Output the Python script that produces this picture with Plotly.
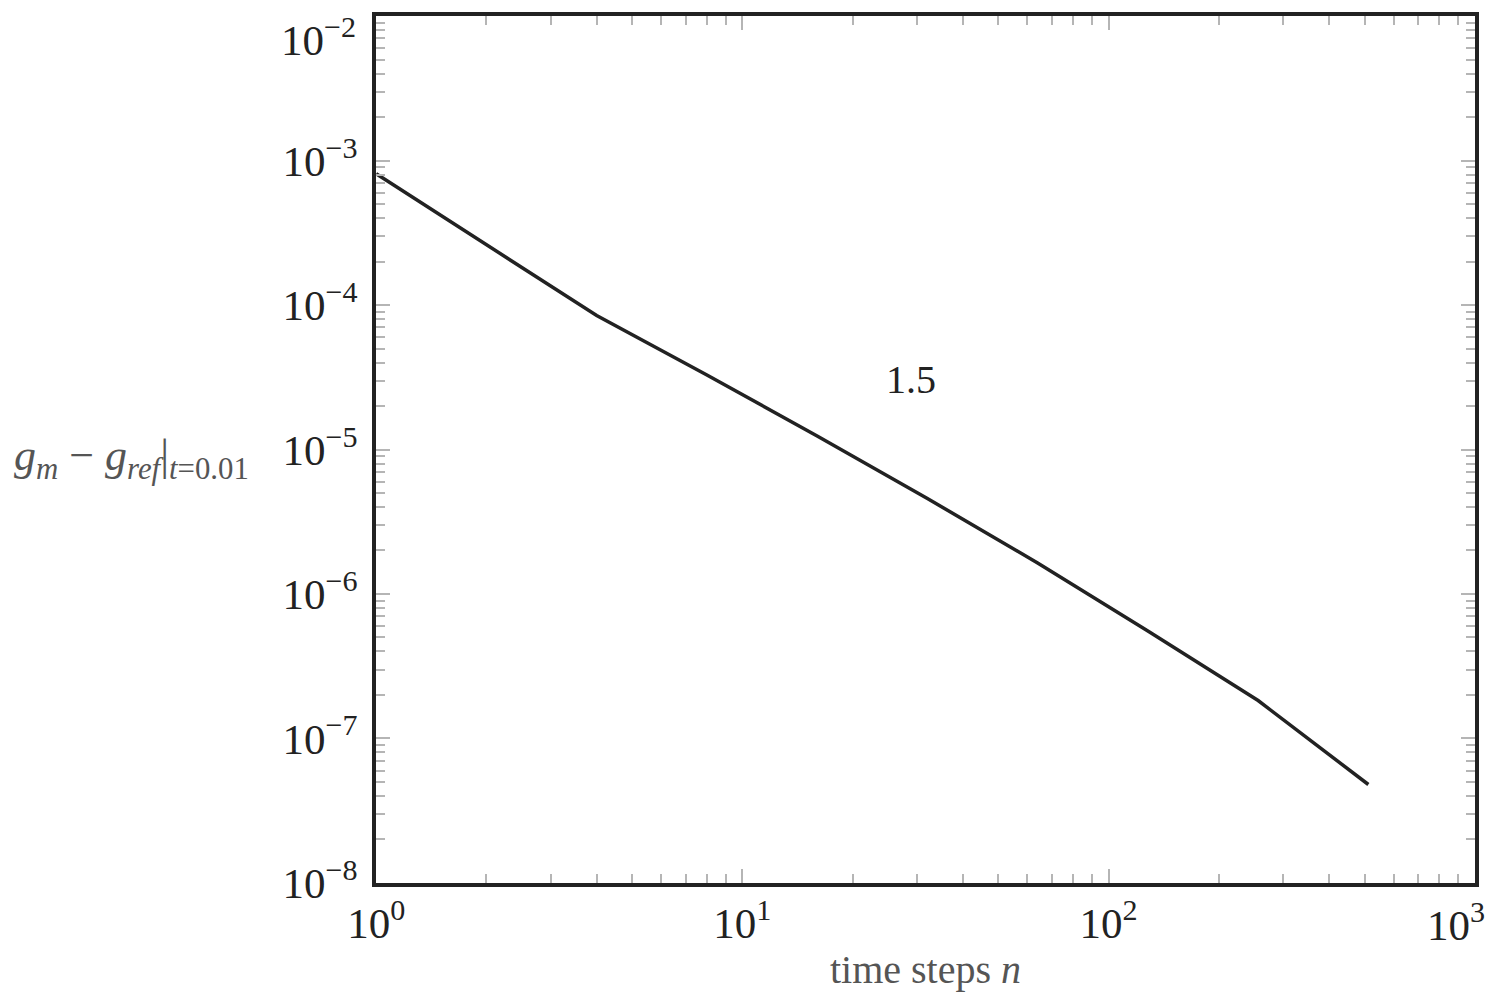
import math
import plotly.graph_objects as go

# error vs number of time steps
steps = [1, 2, 4, 8, 16, 32, 64, 128, 256, 512]
error = [8.1e-4, 2.62e-4, 8.45e-5, 3.28e-5, 1.24e-5, 4.58e-6, 1.64e-6, 5.55e-7, 1.83e-7, 4.8e-8]

x_tickvals = [1, 10, 100, 1000]
x_ticktext = ["10<sup>0</sup>", "10<sup>1</sup>", "10<sup>2</sup>", "10<sup>3</sup>"]
y_tickvals = [1e-8, 1e-7, 1e-6, 1e-5, 1e-4, 1e-3, 1e-2]
y_ticktext = ["10<sup>\u22128</sup>", "10<sup>\u22127</sup>", "10<sup>\u22126</sup>",
              "10<sup>\u22125</sup>", "10<sup>\u22124</sup>", "10<sup>\u22123</sup>",
              "10<sup>\u22122</sup>"]

slope_label = "1.5"
slope_pos = (28.8, 3.07e-5)

FONT = "Liberation Serif"
DARK = "#222222"
GREY = "#555555"
TICK = "#b5b5b5"

fig = go.Figure()
fig.add_trace(go.Scatter(
    x=steps, y=error, mode="lines",
    line=dict(color=DARK, width=3.5),
    showlegend=False, hoverinfo="skip",
))

axis_common = dict(
    type="log", automargin=False,
    showgrid=False, zeroline=False,
    showline=True, linecolor=DARK, linewidth=3.5, mirror="ticks",
    ticks="inside", ticklen=14, tickwidth=1.5, tickcolor=TICK,
    tickfont=dict(family=FONT, size=43, color=DARK),
    ticklabeloverflow="allow",
    minor=dict(ticks="inside", ticklen=9, tickwidth=1.5, tickcolor=TICK,
               dtick="D1", showgrid=False),
)

# the labels at the far ends would be clipped by the page edge, so they are
# drawn as annotations nudged inward instead
fig.update_xaxes(
    range=[-0.0005, 3.0005], tickmode="array", tickvals=x_tickvals,
    ticktext=x_ticktext[:-1] + [""],
    title=dict(text="time steps <i>n</i>", font=dict(family=FONT, size=40, color=GREY),
               standoff=10),
    **axis_common,
)
fig.update_yaxes(
    range=[-8.0005, -1.9995], tickmode="array", tickvals=y_tickvals,
    ticktext=y_ticktext[:-1] + [""],
    ticklabelstandoff=6,
    **axis_common,
)

fig.add_annotation(
    x=1.011, y=-0.011, xref="paper", yref="paper", xanchor="right", yanchor="top",
    showarrow=False, text=x_ticktext[-1],
    font=dict(family=FONT, size=43, color=DARK),
)
fig.add_annotation(
    x=-0.0165, y=1.009, xref="paper", yref="paper", xanchor="right", yanchor="top",
    showarrow=False, text=y_ticktext[-1],
    font=dict(family=FONT, size=43, color=DARK),
)

fig.add_annotation(
    x=math.log10(slope_pos[0]), y=math.log10(slope_pos[1]), xref="x", yref="y",
    showarrow=False, text=slope_label,
    font=dict(family=FONT, size=40, color=DARK),
)

# horizontal y-axis label, left of the tick labels
fig.add_annotation(
    x=-0.114, y=0.49, xref="paper", yref="paper", xanchor="right", yanchor="middle",
    showarrow=False,
    text="<i>g</i><sub><i>m</i></sub> \u2212 <i>g</i><sub><i>ref</i></sub>|<sub><i>t</i>=0.01</sub>",
    font=dict(family=FONT, size=44, color=GREY),
)

# the page body has an 8px margin, so shrink the figure to keep the frame in place
fig.update_layout(
    width=1492, height=985,
    margin=dict(l=368, r=25, t=8, b=110),
    paper_bgcolor="white", plot_bgcolor="white",
)

fig.write_html("out.html")
